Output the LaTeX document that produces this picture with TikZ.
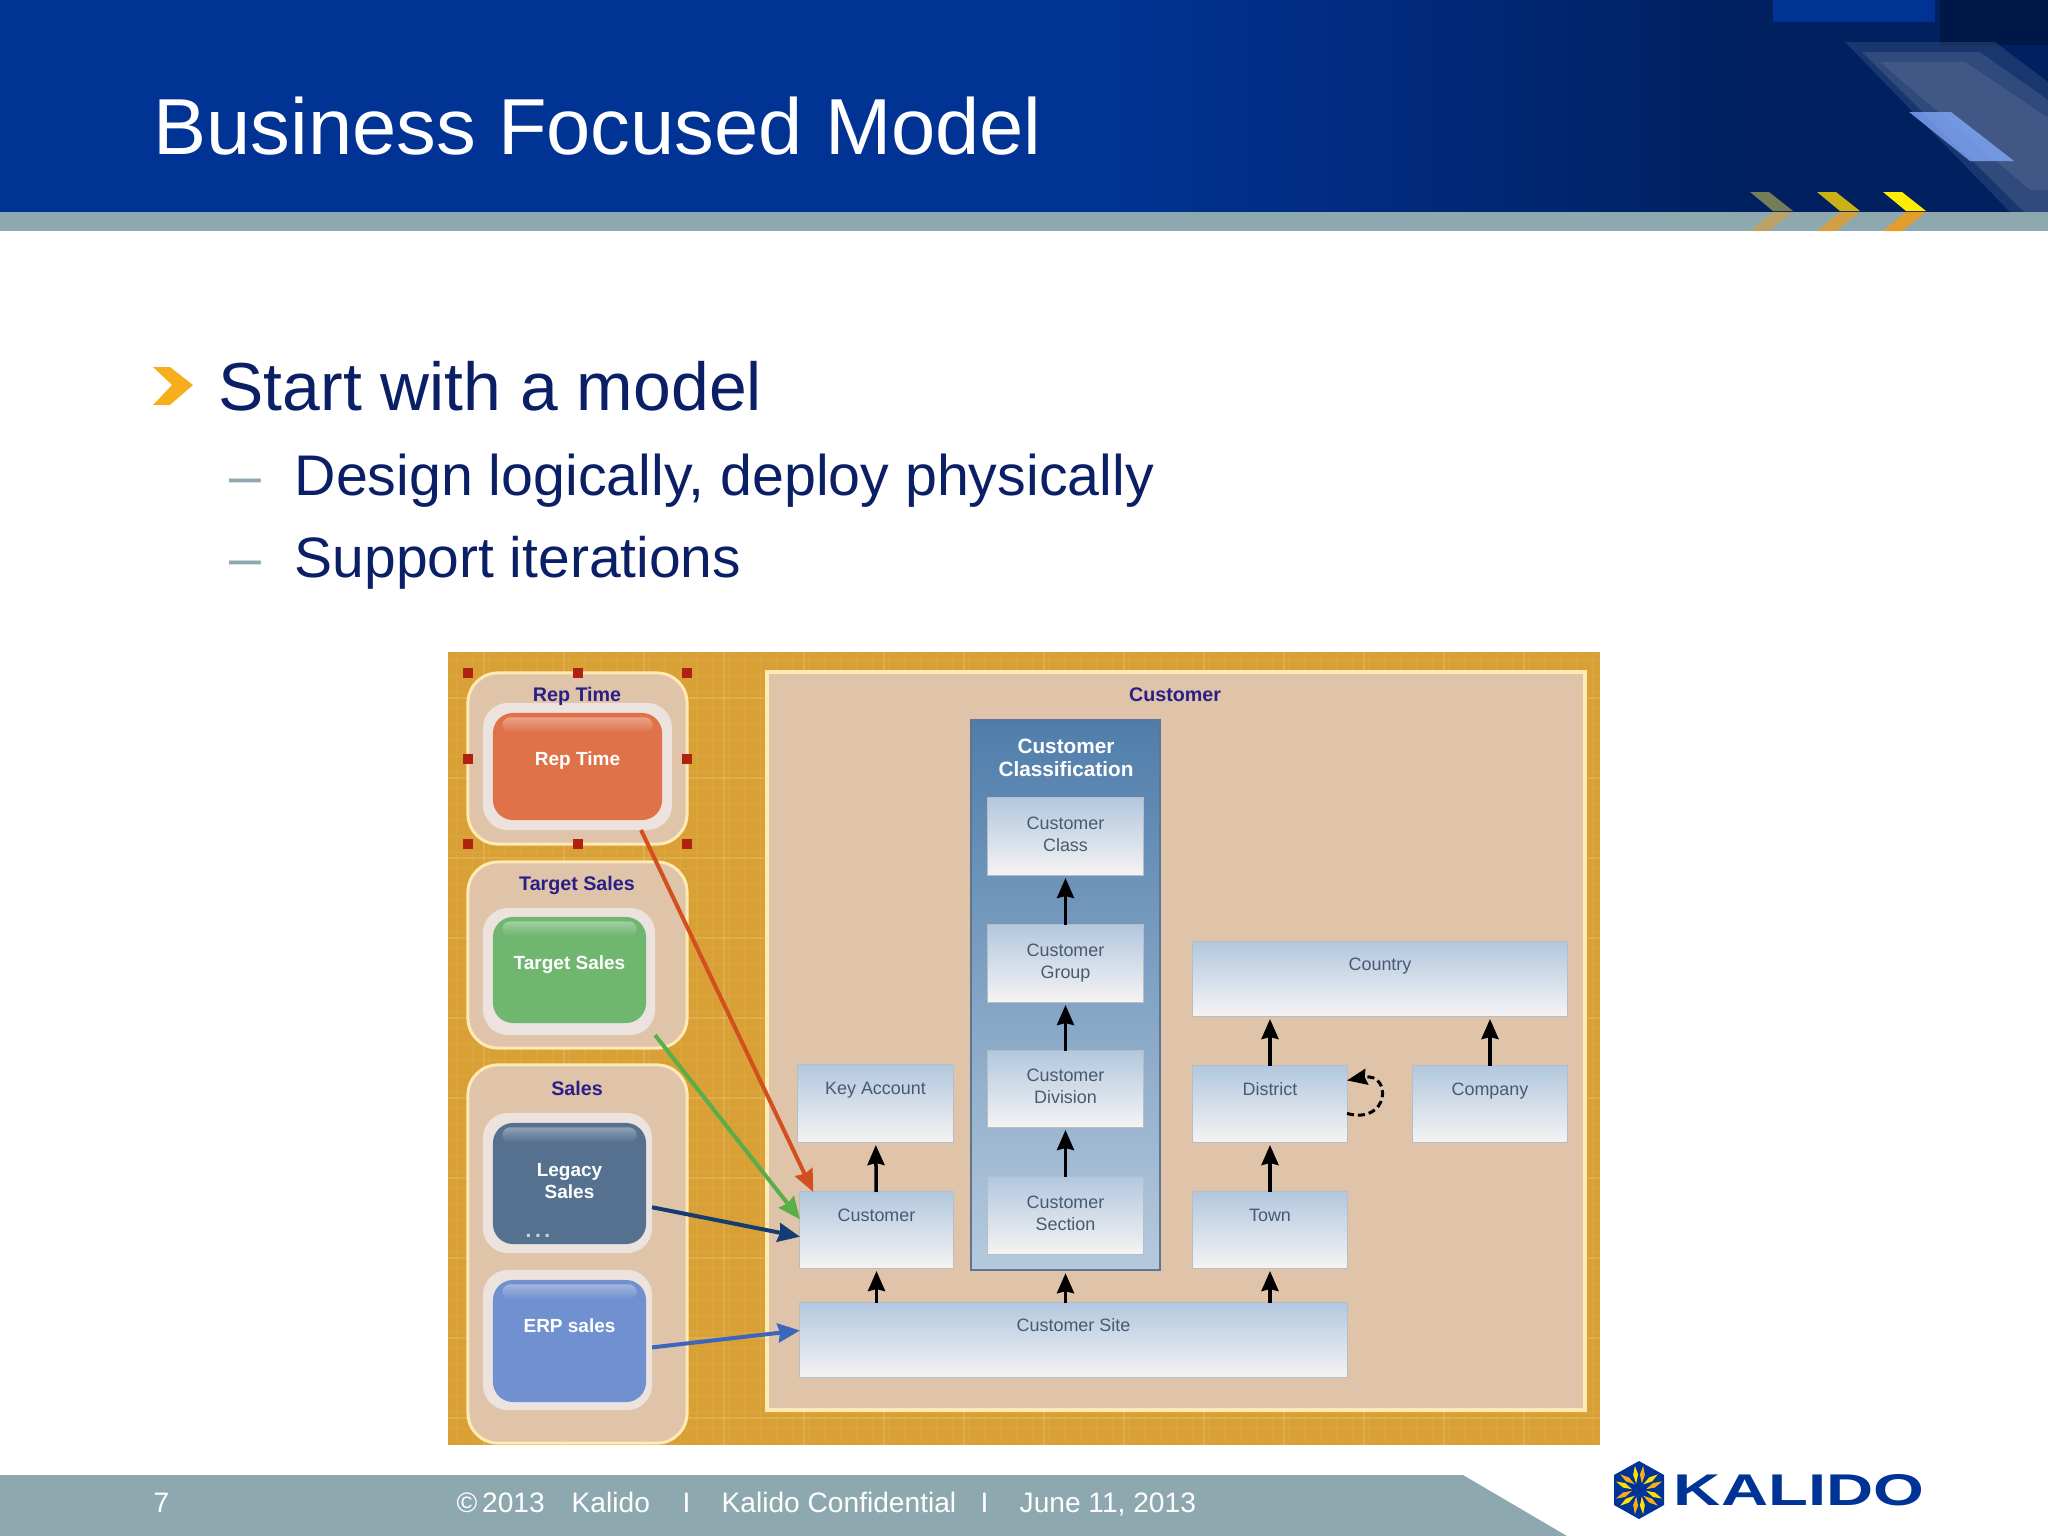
\documentclass[tikz,border=0pt]{standalone}
\usepackage{fontspec}
\setmainfont{Liberation Sans}
\usetikzlibrary{arrows.meta}
\usetikzlibrary{fadings}

\definecolor{hdrblue}{HTML}{013394}
\definecolor{hdrdark}{HTML}{00205F}
\definecolor{bandgrey}{HTML}{8DA9AF}
\definecolor{inknavy}{HTML}{0B1F66}
\definecolor{gridorange}{HTML}{D9A035}
\definecolor{sand}{HTML}{DFC4AA}
\definecolor{sandedge}{HTML}{FFE9B5}
\definecolor{haloclr}{HTML}{ECE3DE}
\definecolor{titleblue}{HTML}{2A1F86}
\definecolor{boxtop}{HTML}{B2C8DF}
\definecolor{boxbot}{HTML}{F5F3F3}
\definecolor{boxedge}{HTML}{B4BEC4}
\definecolor{boxtxt}{HTML}{4A5A6E}
\definecolor{paneltop}{HTML}{4F7DAB}
\definecolor{panelbot}{HTML}{B6CADD}
\definecolor{paneledge}{HTML}{5F7690}
\definecolor{handlered}{HTML}{B0220F}
\definecolor{repclr}{HTML}{E0724A}
\definecolor{targetclr}{HTML}{6FB66F}
\definecolor{legacyclr}{HTML}{55718F}
\definecolor{erpclr}{HTML}{7090CF}
\definecolor{arrowred}{HTML}{D2501E}
\definecolor{arrowgreen}{HTML}{58AE48}
\definecolor{arrownavy}{HTML}{143C70}
\definecolor{arrowblue}{HTML}{3C66BE}
\definecolor{logoblue}{HTML}{003396}
\definecolor{logogold}{HTML}{F7AE1D}
\definecolor{logoyellow}{HTML}{FFE000}

\tikzset{
    slidetext/.style={anchor=base west, inner sep=0pt},
    footertext/.style={slidetext, white, font=\fontsize{8}{9}\selectfont},
    groupbox/.style={draw=sandedge, line width=0.03cm, fill=sand, rounded corners=0.3cm, inner sep=0pt, outer sep=0pt},
    halobox/.style={fill=haloclr, rounded corners=0.25cm, inner sep=0pt, outer sep=0pt},
    tilebox/.style={rounded corners=0.2cm, inner sep=0pt, align=center, white, font=\fontsize{5.4}{6.3}\selectfont\bfseries},
    grouptitle/.style={inner sep=0pt, align=center, titleblue, font=\fontsize{5.6}{6.5}\selectfont\bfseries},
    dimbox/.style={draw=boxedge, line width=0.01cm, top color=boxtop, bottom color=boxbot, inner sep=0pt, outer sep=0pt, align=center, text=boxtxt, font=\fontsize{5.1}{6.3}\selectfont},
    toptext/.style={text height=0.1cm, text depth=0.28cm},
    handle/.style={fill=handlered, minimum size=0.1cm, inner sep=0pt},
    uparrow/.style={-{Stealth[length=0.2cm,width=0.17cm,inset=0.02cm]}, line width=0.035cm, shorten >=0.03cm, black},
    feedarrow/.style={-{Stealth[length=0.22cm,width=0.19cm,inset=0.02cm]}, line width=0.04cm},
}

\begin{document}
\begin{tikzpicture}[x=0.01cm, y=-0.01cm]
    \useasboundingbox (0,0) rectangle (2048,1536);

    % Header
    \fill[hdrblue] (0,0) rectangle (1100,212);
    \shade[left color=hdrblue, right color=hdrdark] (1100,0) rectangle (1760,212);
    \fill[hdrdark] (1760,0) rectangle (2048,212);
    \fill[hdrblue] (1773,0) rectangle (1935,22);
    \fill[hdrdark!75!black] (1940,0) rectangle (2048,45);
    \fill[white, opacity=0.1] (1845,42) -- (1995,42) -- (2048,82) -- (2048,212) -- (2010,212) -- cycle;
    \fill[white, opacity=0.1] (1862,52) -- (1980,52) -- (2048,100) -- (2048,212) -- (2024,212) -- cycle;
    \fill[white, opacity=0.08] (1880,62) -- (1965,62) -- (2048,118) -- (2048,190) -- (2030,190) -- cycle;
    \fill[blue!30!cyan!30!white!75!blue, opacity=0.75] (1909,112) -- (1951,112) -- (2014,161) -- (1970,161) -- cycle;
    \fill[bandgrey] (0,212) rectangle (2048,231);
    \node[slidetext, white, font=\fontsize{22.6}{26}\selectfont] (title) at (153,154) {Business Focused Model};

    % Chevrons on the band
    \foreach \cx/\cclr/\cop in {-133/yellow!60!gray/0.55,-66/yellow!75!orange/0.8,0/yellow!95!orange/1} {
        \fill[\cclr, opacity=\cop] (1883+\cx,192) -- (1902+\cx,192) -- (1926+\cx,211) -- (1906+\cx,211) -- cycle;
        \fill[orange!80!yellow, opacity=0.75*\cop] (1906+\cx,212) -- (1926+\cx,212) -- (1902+\cx,231) -- (1883+\cx,231) -- cycle;
    }

    % Bullets
    \fill[logogold] (153,367) -- (170,367) -- (193,385) -- (170,405) -- (153,405) -- (172,385) -- cycle;
    \node[slidetext, inknavy, font=\fontsize{19.3}{22}\selectfont] (start) at (218,410) {Start with a model};
    \node[slidetext, bandgrey, font=\fontsize{16.3}{20}\selectfont] (dasha) at (229,495) {–};
    \node[slidetext, bandgrey, font=\fontsize{16.3}{20}\selectfont] (dashb) at (229,577) {–};
    \node[slidetext, inknavy, font=\fontsize{16.3}{20}\selectfont] (design) at (294,495) {Design logically, deploy physically};
    \node[slidetext, inknavy, font=\fontsize{16.2}{20}\selectfont] (support) at (294,577) {Support iterations};

    % Model background and grid
    \fill[gridorange] (448,652) rectangle (1600,1445);
    \foreach \gx in {456,472,...,1592} {
        \draw[white, opacity=0.06, line width=0.01cm] (\gx,652) -- (\gx,1445);
    }
    \foreach \gy in {660,676,...,1440} {
        \draw[white, opacity=0.06, line width=0.01cm] (448,\gy) -- (1600,\gy);
    }
    \foreach \gx in {484,564,...,1600} {
        \draw[sandedge, opacity=0.18, line width=0.015cm] (\gx,652) -- (\gx,1445);
    }
    \foreach \gy in {698,778,...,1440} {
        \draw[sandedge, opacity=0.18, line width=0.015cm] (448,\gy) -- (1600,\gy);
    }

    % Left groups
    \node[groupbox, minimum width=2.19cm, minimum height=1.71cm] (repgroup) at (577.5,758.5) {};
    \node[groupbox, minimum width=2.19cm, minimum height=1.86cm] (targetgroup) at (577.5,955) {};
    \node[groupbox, minimum width=2.19cm, minimum height=3.78cm] (salesgroup) at (577.5,1254) {};

    \node[halobox, minimum width=1.89cm, minimum height=1.27cm] (rephalo) at (577.5,766.5) {};
    \node[halobox, minimum width=1.72cm, minimum height=1.27cm] (targethalo) at (569,971.5) {};
    \node[halobox, minimum width=1.69cm, minimum height=1.40cm] (legacyhalo) at (567.5,1183) {};
    \node[halobox, minimum width=1.69cm, minimum height=1.40cm] (erphalo) at (567.5,1340) {};

    \node[grouptitle] (reptitle) at (577,696) {Rep Time};
    \node[grouptitle] (targettitle) at (577,885) {Target Sales};
    \node[grouptitle] (salestitle) at (577,1088) {Sales};

    \node[tilebox, fill=repclr, minimum width=1.69cm, minimum height=1.07cm, text height=0.1cm, text depth=0.12cm] (reptile) at (577.5,766.5) {Rep Time};
    \node[tilebox, fill=targetclr, minimum width=1.53cm, minimum height=1.06cm, text height=0.1cm, text depth=0.12cm] (targettile) at (569.5,970) {Target Sales};
    \node[tilebox, fill=legacyclr, minimum width=1.53cm, minimum height=1.21cm, text depth=0.05cm] (legacytile) at (569.5,1183.5) {Legacy\\Sales};
    \node[tilebox, fill=erpclr, minimum width=1.53cm, minimum height=1.22cm, text height=0.1cm, text depth=0.28cm] (erptile) at (569.5,1341) {ERP sales};
    \node[inner sep=0pt, white!70!legacyclr, font=\fontsize{6}{7}\selectfont\bfseries] (legacydots) at (538,1236) {.\,.\,.};
    \foreach \tname in {reptile,targettile,legacytile,erptile} {
        \fill[white, opacity=0.35, path fading=south, rounded corners=0.08cm] ([xshift=0.1cm,yshift=-0.05cm]\tname.north west) rectangle ([xshift=-0.1cm,yshift=-0.2cm]\tname.north east);
    }

    % Selection handles
    \foreach \a in {north west,north,north east,west,east,south west,south,south east} {
        \node[handle] (h-\a) at (repgroup.\a) {};
    }

    % Customer dimension
    \node[draw=sandedge, line width=0.04cm, fill=sand, minimum width=8.18cm, minimum height=7.38cm, inner sep=0pt] (custgroup) at (1176,1041) {};
    \node[grouptitle] (custtitle) at (1175,695) {Customer};

    % Customer Classification panel
    \node[draw=paneledge, line width=0.02cm, top color=paneltop, bottom color=panelbot, minimum width=1.89cm, minimum height=5.5cm, inner sep=0pt, outer sep=0pt] (classpanel) at (1065.5,995) {};
    \node[inner sep=0pt, align=center, white, font=\fontsize{5.9}{6.6}\selectfont\bfseries] (classtitle) at (1066,758) {Customer\\Classification};
    \node[dimbox, text depth=0.05cm, minimum width=1.55cm, minimum height=0.77cm] (custclass) at (1065.5,836.5) {Customer\\Class};
    \node[dimbox, text depth=0.05cm, minimum width=1.55cm, minimum height=0.77cm] (custgrp) at (1065.5,963.5) {Customer\\Group};
    \node[dimbox, text depth=0.05cm, minimum width=1.55cm, minimum height=0.76cm] (custdiv) at (1065.5,1089) {Customer\\Division};
    \node[dimbox, text depth=0.05cm, minimum width=1.55cm, minimum height=0.77cm] (custsec) at (1065.5,1215.5) {Customer\\Section};

    % Other levels
    \node[dimbox, toptext, minimum width=1.55cm, minimum height=0.77cm] (keyacc) at (875.5,1103.5) {Key Account};
    \node[dimbox, toptext, minimum width=1.53cm, minimum height=0.76cm] (customer) at (876.5,1230) {Customer};
    \node[dimbox, toptext, minimum width=5.47cm, minimum height=0.74cm] (site) at (1073.5,1340) {Customer Site};
    \node[dimbox, toptext, minimum width=3.74cm, minimum height=0.74cm] (country) at (1380,979) {Country};
    \node[dimbox, toptext, minimum width=1.54cm, minimum height=0.76cm] (district) at (1270,1104) {District};
    \node[dimbox, toptext, minimum width=1.54cm, minimum height=0.76cm] (company) at (1490,1104) {Company};
    \node[dimbox, toptext, minimum width=1.54cm, minimum height=0.76cm] (town) at (1270,1230) {Town};

    % Hierarchy arrows
    \draw[uparrow] (custgrp) -- (custclass);
    \draw[uparrow] (custdiv) -- (custgrp);
    \draw[uparrow] (custsec) -- (custdiv);
    \draw[uparrow] (customer) -- (keyacc);
    \draw[uparrow] (town) -- (district);
    \draw[uparrow] (district) -- (district |- country.south);
    \draw[uparrow] (company) -- (company |- country.south);
    \draw[uparrow] (customer.south |- site.north) -- (customer);
    \draw[uparrow] (classpanel.south |- site.north) -- (classpanel);
    \draw[uparrow] (town.south |- site.north) -- (town);
    \draw[line width=0.03cm, dashed, dash pattern=on 0.07cm off 0.04cm, -{Stealth[length=0.2cm,width=0.16cm,inset=0.02cm]}] (district.-7) .. controls (1390,1125) and (1392,1072) .. (district.17);

    % Feeds into the model
    \draw[feedarrow, arrowred] (rephalo.-45) -- (customer.149);
    \draw[feedarrow, arrowgreen] (targethalo.south east) -- (customer.172);
    \draw[feedarrow, arrownavy] (legacyhalo.-16) -- (customer.185);
    \draw[feedarrow, arrowblue] (erphalo.-5) -- (site.178);

    % Footer
    \fill[bandgrey] (0,1475) -- (1463,1475) -- (1567,1536) -- (0,1536) -- cycle;
    \node[footertext] (pagenum) at (153,1512) {7};
    \node[footertext] (copyr) at (456,1512) {©\,2013};
    \node[footertext] (brand) at (571,1512) {Kalido};
    \node[footertext] (sepa) at (682,1512) {I};
    \node[footertext] (conf) at (721,1512) {Kalido Confidential};
    \node[footertext] (sepb) at (980,1512) {I};
    \node[footertext] (date) at (1019,1512) {June 11, 2013};

    % Logo
    \fill[logoblue] (1639,1461) -- (1664,1475) -- (1664,1505) -- (1639,1519) -- (1614,1505) -- (1614,1475) -- cycle;
    \foreach \a in {0,60,...,300} {
        \begin{scope}[shift={(1639,1490)}, rotate=\a]
            \fill[logogold] (7,-0.8) -- (16,-2.5) -- (23,-8.5) -- (14,-7) -- cycle;
            \fill[logoyellow] (7,0.8) -- (16,2.5) -- (23,8.5) -- (14,7) -- cycle;
        \end{scope}
    }
    \node[inner sep=0pt, logoblue] (logotext) at (1799,1490) {\resizebox{2.5cm}{0.31cm}{\bfseries KALIDO}};
\end{tikzpicture}
\end{document}
